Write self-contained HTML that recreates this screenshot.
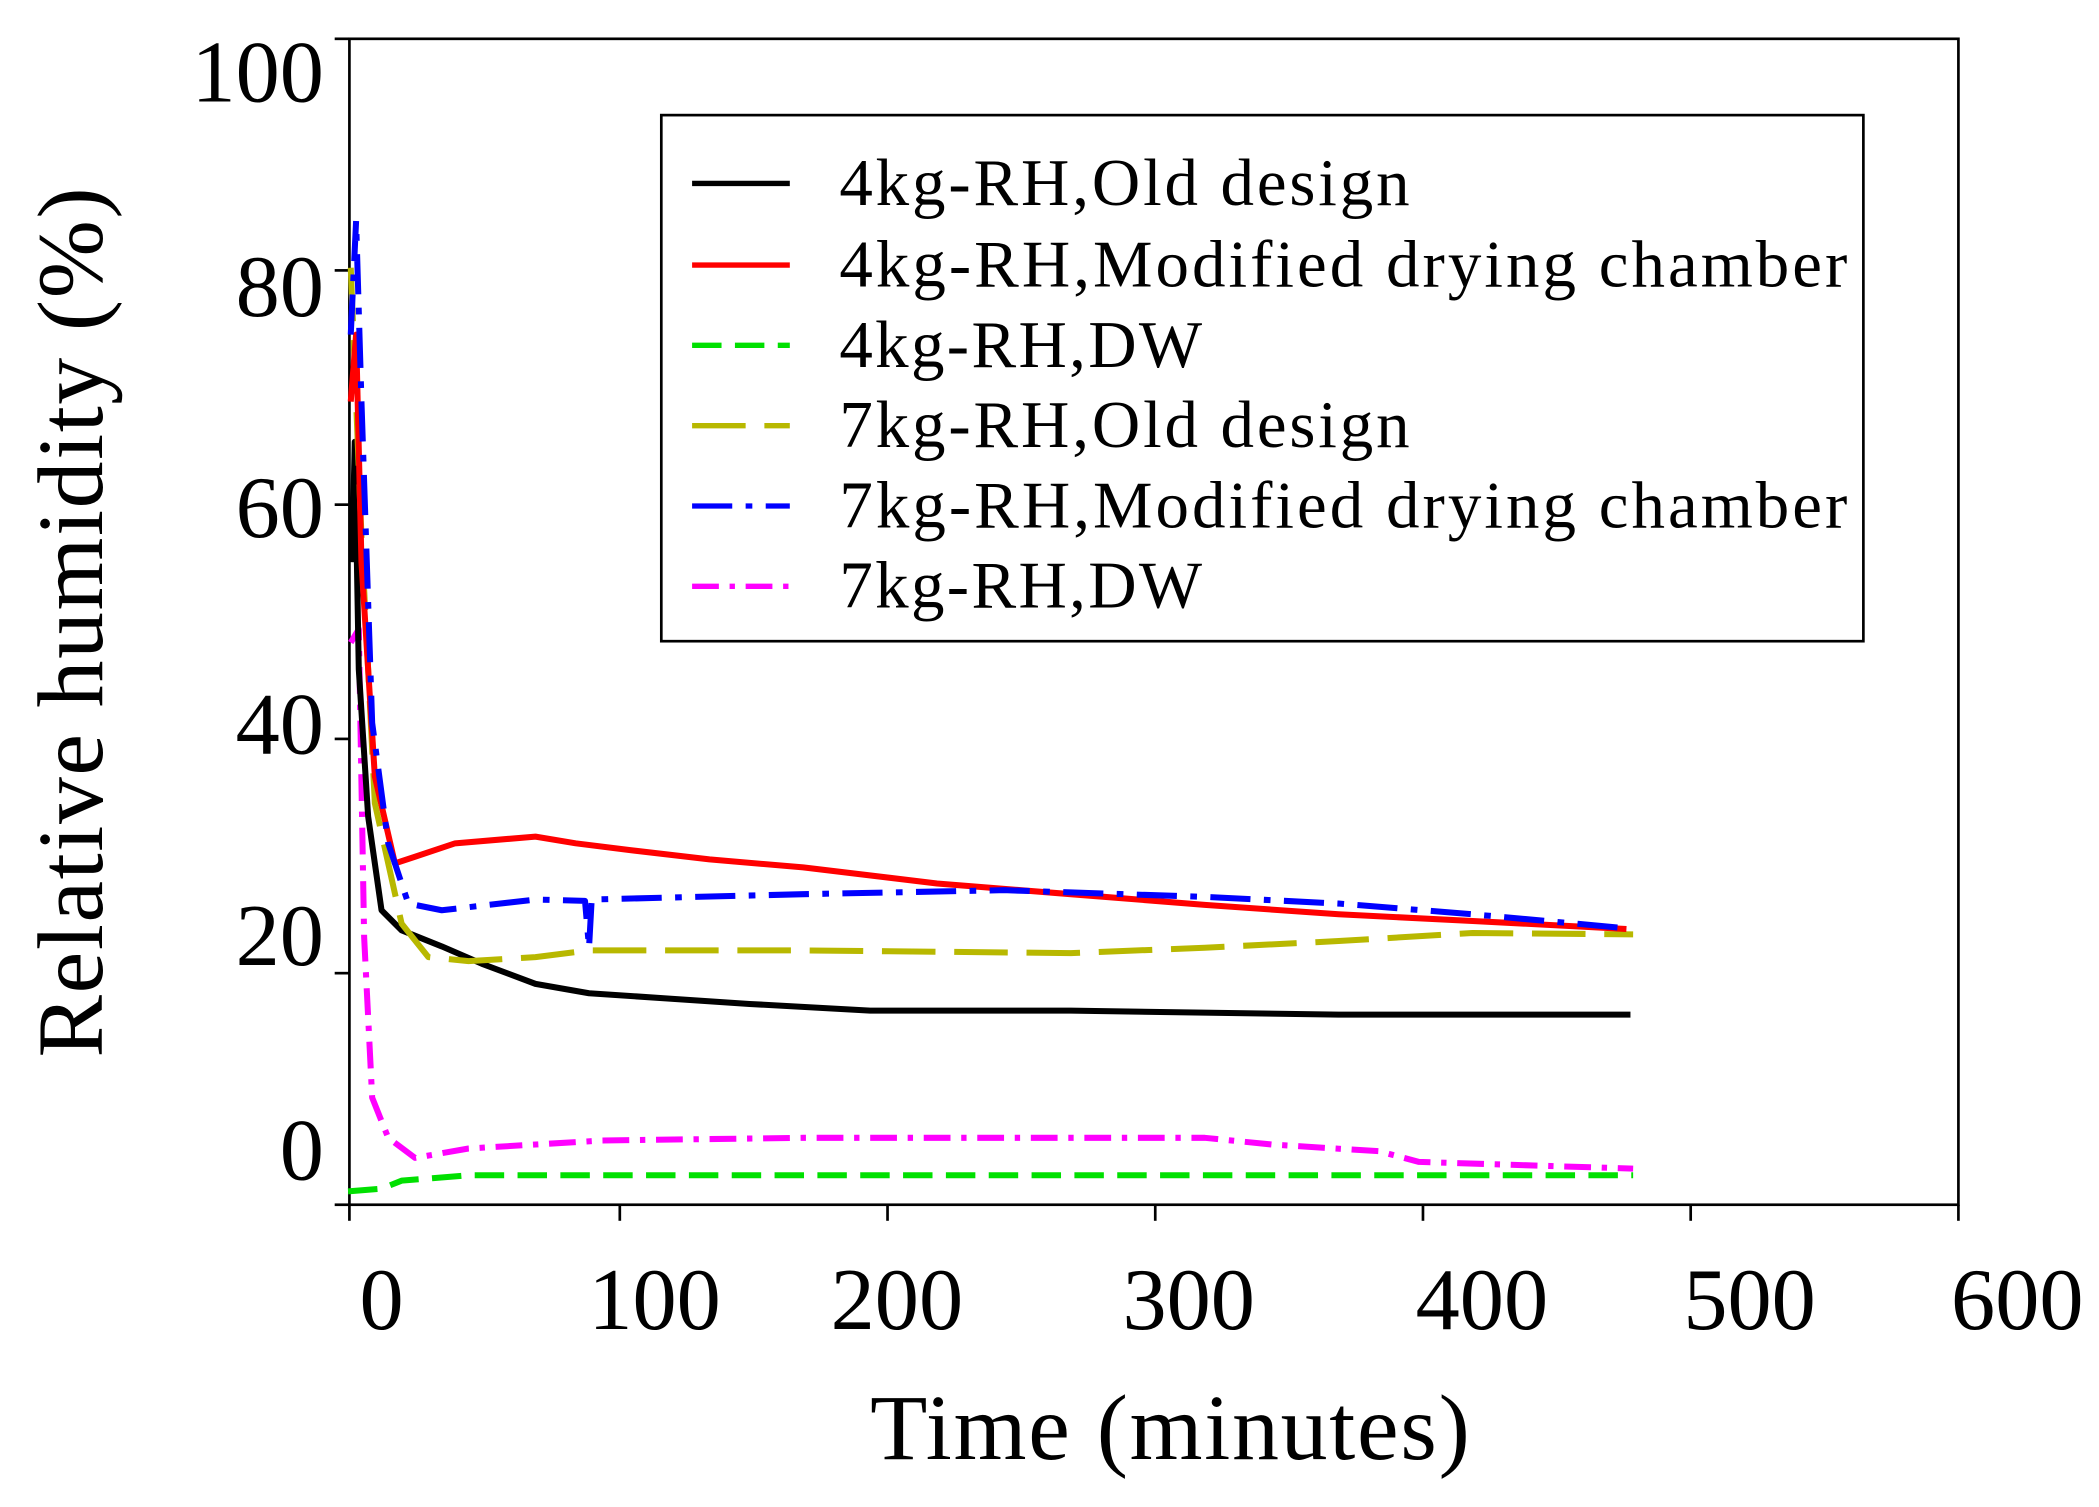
<!DOCTYPE html>
<html><head><style>html,body{margin:0;padding:0;background:#fff;}svg{display:block;}</style></head>
<body>
<svg width="2099" height="1507" viewBox="0 0 1568 1125.8" xmlns="http://www.w3.org/2000/svg" font-family="'Liberation Serif', serif">
<rect width="1568" height="1126" fill="#fff"/>
<rect x="261" y="29" width="1202" height="871" fill="none" stroke="#000" stroke-width="2"/>
<g stroke="#000" stroke-width="2">
<line x1="250" y1="29" x2="261" y2="29"/><line x1="250" y1="202" x2="261" y2="202"/><line x1="250" y1="377" x2="261" y2="377"/><line x1="250" y1="552" x2="261" y2="552"/><line x1="250" y1="727" x2="261" y2="727"/><line x1="250" y1="900" x2="261" y2="900"/>
<line x1="261" y1="900" x2="261" y2="912"/><line x1="463" y1="900" x2="463" y2="912"/><line x1="663" y1="900" x2="663" y2="912"/><line x1="863" y1="900" x2="863" y2="912"/><line x1="1063" y1="900" x2="1063" y2="912"/><line x1="1263" y1="900" x2="1263" y2="912"/><line x1="1463" y1="900" x2="1463" y2="912"/>
</g>
<g font-size="66" text-anchor="end" fill="#000">
<text x="242" y="76">100</text><text x="242" y="236">80</text><text x="242" y="401">60</text><text x="242" y="563">40</text><text x="242" y="721">20</text><text x="242" y="881">0</text>
</g>
<g font-size="66" text-anchor="middle" fill="#000">
<text x="285" y="993">0</text><text x="489" y="993">100</text><text x="670" y="993">200</text><text x="888" y="993">300</text><text x="1107" y="993">400</text><text x="1307" y="993">500</text><text x="1507" y="993">600</text>
</g>
<text x="650" y="1090" font-size="70" textLength="448" lengthAdjust="spacing">Time (minutes)</text>
<text transform="translate(76,790) rotate(-90)" font-size="70" textLength="650" lengthAdjust="spacing">Relative humidity (%)</text>

<g fill="none" stroke-width="4.5" stroke-linejoin="round">
<polyline stroke="#00e000" stroke-dasharray="22,10" points="260,890 285,888 300,882 350,878 1220,878"/>
<polyline stroke="#ff00ff" stroke-dasharray="20,8,4,8" points="262,480 268,470 272,700 278,820 290,850 310,865 350,858 400,855 450,852 600,850 900,850 950,855 1030,860 1060,868 1220,873"/>
<polyline stroke="#000" points="263,420 265,330 268,500 275,610 285,680 300,695 330,707 360,720 400,735 440,742 500,746 560,750 650,755 800,755 1000,758 1218,758"/>
<polyline stroke="#b8b800" stroke-dasharray="40,14" points="262,200 270,400 280,600 300,690 320,715 350,718 400,715 440,710 600,710 800,712 900,708 1000,703 1100,697 1220,698"/>
<polyline stroke="#ff0000" points="262,300 266,250 270,420 280,580 295,645 310,640 340,630 400,625 430,630 470,635 530,642 600,648 700,660 800,668 900,676 1000,683 1100,688 1215,694"/>
<polyline stroke="#0000ff" stroke-dasharray="30,10,5,10" points="262,250 266,165 270,300 278,540 290,630 305,675 330,680 400,672 437,673 440,708 442,672 600,668 750,665 900,670 1000,675 1100,683 1210,693"/>
</g>

<rect x="494" y="86" width="898" height="393" fill="#fff" stroke="#000" stroke-width="2"/>
<g stroke-width="4" fill="none">
<line x1="517" y1="137" x2="590" y2="137" stroke="#000"/>
<line x1="517" y1="198" x2="590" y2="198" stroke="#ff0000"/>
<line x1="517" y1="258" x2="590" y2="258" stroke="#00e000" stroke-dasharray="22,10"/>
<line x1="517" y1="318" x2="590" y2="318" stroke="#b8b800" stroke-dasharray="40,14"/>
<line x1="517" y1="378" x2="590" y2="378" stroke="#0000ff" stroke-dasharray="30,10,5,10"/>
<line x1="517" y1="438" x2="590" y2="438" stroke="#ff00ff" stroke-dasharray="20,8,4,8"/>
</g>
<g font-size="50" fill="#000" lengthAdjust="spacing">
<text x="627" y="153" textLength="426">4kg-RH,Old design</text>
<text x="627" y="214" textLength="753">4kg-RH,Modified drying chamber</text>
<text x="627" y="274" textLength="271">4kg-RH,DW</text>
<text x="627" y="334" textLength="426">7kg-RH,Old design</text>
<text x="627" y="394" textLength="753">7kg-RH,Modified drying chamber</text>
<text x="627" y="454" textLength="271">7kg-RH,DW</text>
</g>
</svg>
</body></html>
